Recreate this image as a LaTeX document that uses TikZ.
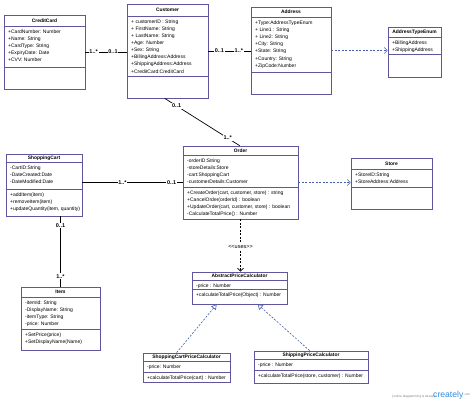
\documentclass[tikz,border=0pt]{standalone}
\usepackage{fontspec}
\setmainfont{Liberation Sans}
\usetikzlibrary{arrows.meta,fit}
\definecolor{boxc}{RGB}{96,86,156}
\definecolor{depc}{RGB}{70,95,170}
\definecolor{crea}{RGB}{50,140,220}
\newcommand\clsbox[8]{%
  \node[cls, fit={(#2,#3)(#4,#5)}] (#1) {};
  \draw[sepline] (#2,#6) -- (#4,#6);
  \draw[sepline] (#2,#7) -- (#4,#7);
  \node[ttl] (#1-t) at ({(#2+#4)/2},{(#3+#6)/2}) {#8};
}
\newcommand\comptext[4]{\node[txt] (#1) at (#2,#3) {#4};}
\begin{document}
\begin{tikzpicture}[x=1pt,y=-1pt,
  cls/.style={draw=boxc,line width=.7pt,fill=white,inner sep=0pt},
  sepline/.style={draw=boxc,line width=.6pt},
  ttl/.style={inner sep=0pt,font=\fontsize{4.9}{6}\selectfont\bfseries},
  txt/.style={anchor=north west,inner sep=0pt,align=left,font=\fontsize{5}{7.1}\selectfont},
  assoc/.style={draw=black,line width=.7pt},
  mult/.style={fill=white,inner sep=0.8pt,font=\fontsize{5.5}{6}\selectfont\bfseries},
  dep/.style={draw=depc,line width=.6pt,dash pattern=on 2pt off 1.5pt,-{Straight Barb[length=3pt,width=6pt]}},
  uses/.style={draw=black,line width=.8pt,dash pattern=on 2pt off 1.5pt,-{Straight Barb[length=3pt,width=6pt]}},
  real/.style={draw=depc,line width=.6pt,dash pattern=on 2pt off 1.5pt,-{Triangle[open,length=5pt,width=6pt]}},
]
\useasboundingbox (0,0) rectangle (474,405);

% classes
\clsbox{cc}{4}{15}{85}{89}{26}{67}{CreditCard}
\comptext{cc-a}{8}{29.7}{+CardNumber: Number\\+Name: String\\+CardType: String\\+ExpiryDate: Date\\+CVV: Number}

\clsbox{cust}{127}{4}{208}{98}{16}{76}{Customer}
\comptext{cust-a}{131}{19.5}{+ customerID : String\\+ FirstName: String\\+ LastName: String\\+Age: Number\\+Sex: String\\+BillingAddress:Address\\+ShippingAddress:Address\\+CreditCard:CreditCard}

\clsbox{addr}{251}{7}{331}{94}{17}{72}{Address}
\comptext{addr-a}{255}{20.7}{+Type:AddressTypeEnum\\+ Line1 : String\\+ Line2: String\\+City: String\\+State: String\\+Country: String\\+ZipCode:Number}

\clsbox{enum}{388}{27}{441}{77}{37}{54}{AddressTypeEnum}
\comptext{enum-a}{392}{40.3}{+BillingAddress\\+ShippingAddress}

\clsbox{cart}{6}{154}{82}{216}{162}{189}{ShoppingCart}
\comptext{cart-a}{10}{165.5}{-CartID:String\\-DateCreated:Date\\-DateModified:Date}
\comptext{cart-m}{10}{192.3}{+addItem(item)\\+removeItem(item)\\+updateQuantity(item, quantity)}

\clsbox{ord}{183}{146}{298}{219}{155}{187}{Order}
\comptext{ord-a}{187}{158.5}{-orderID:String\\-storeDetails:Store\\-cart:ShoppingCart\\-customerDetails:Customer}
\comptext{ord-m}{187}{190.5}{+CreateOrder(cart, customer, store) : string\\+CancelOrder(orderId) : boolean\\+UpdateOrder(cart, customer, store) : boolean\\-CalculateTotalPrice() : Number}

\clsbox{store}{351}{158}{432}{209}{169}{187}{Store}
\comptext{store-a}{355}{172.3}{+StoreID:String\\+StoreAddress:Address}

\clsbox{item}{21}{287}{100}{350}{297}{329}{Item}
\comptext{item-a}{25}{300.5}{-itemId: String\\-DisplayName: String\\-itemType: String\\-price: Number}
\comptext{item-m}{25}{332.5}{+SetPrice(price)\\+SetDisplayName(Name)}

\clsbox{abs}{192}{272}{287}{304}{280}{289}{AbstractPriceCalculator}
\comptext{abs-a}{196}{283.2}{-price : Number}
\comptext{abs-m}{196}{292.5}{+calculateTotalPrice(Object) : Number}

\clsbox{scpc}{143}{353}{230}{382}{361}{372}{ShoppingCartPriceCalculator}
\comptext{scpc-a}{147}{364.5}{-price: Number}
\comptext{scpc-m}{147}{375.2}{+calculateTotalPrice(cart) : Number}

\clsbox{spc}{254}{351}{368}{383}{359}{370}{ShippingPriceCalculator}
\comptext{spc-a}{258}{362.5}{-price : Number}
\comptext{spc-m}{258}{373.5}{+calculateTotalPrice(store, customer) : Number}

% associations
\draw[assoc] (cc.east) -- (cc.east -| cust.west)
  node[mult,pos=0.2] {1..*} node[mult,pos=0.67] {0..1};
\draw[assoc] (cust.east) -- (cust.east -| addr.west)
  node[mult,pos=0.26] {0..1} node[mult,pos=0.72] {1..*};
\draw[assoc] ([xshift=38pt]cust.south west) -- ([xshift=57pt]ord.north west)
  node[mult,pos=0.16] {0..1} node[mult,pos=0.84] {1..*};
\draw[assoc] (cart.east |- ord.west) -- (ord.west)
  node[mult,pos=0.4] {1..*} node[mult,pos=0.89] {0..1};
\draw[assoc] (item.north |- cart.south) -- (item.north)
  node[mult,pos=0.13] {0..1} node[mult,pos=0.85] {1..*};

% dependencies
\draw[dep] (addr.east) -- (addr.east -| enum.west);
\draw[dep] (ord.east) -- (ord.east -| store.west);
\draw[uses] (ord.south) -- (ord.south |- abs.north)
  node[pos=0.53,fill=white,inner sep=1pt,font=\fontsize{5.5}{6}\selectfont] {<{}<uses>{}>};

% realizations
\draw[real] ([xshift=34pt]scpc.north west) -- ([xshift=25pt]abs.south west);
\draw[real] ([xshift=56pt]spc.north west) -- ([xshift=66pt]abs.south west);

% watermark
\node[inner sep=0pt,text=gray,font=\fontsize{3.2}{4}\selectfont] (wm1) at (414,396.5) {[online diagramming \& design]};
\node[inner sep=0pt,text=crea,font=\fontsize{8.6}{9}\selectfont,anchor=west] (wm2) at (433,395) {creately};
\node[inner sep=0pt,text=gray,font=\fontsize{3}{4}\selectfont,anchor=west] (wm3) at (wm2.east) {.com};
\end{tikzpicture}
\end{document}
